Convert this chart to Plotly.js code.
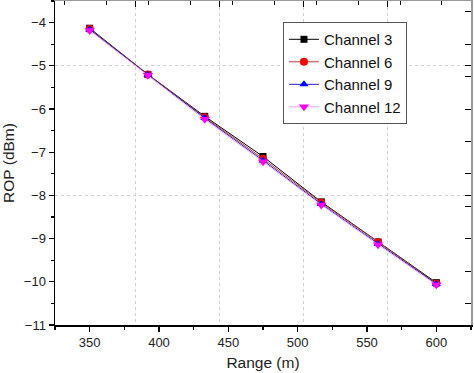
<!DOCTYPE html>
<html>
<head>
<meta charset="utf-8">
<script src="https://cdn.plot.ly/plotly-3.0.1.min.js"></script>
<style>html,body{margin:0;padding:0;background:#fff;}#chart{width:474px;height:373px;}</style>
</head>
<body>
<div id="chart"></div>
<script>
var rangeM = [350, 392, 433, 475, 517, 558, 600];
var channel3 = [-4.13, -5.20, -6.17, -7.10, -8.15, -9.08, -10.02];
var channel6 = [-4.15, -5.20, -6.19, -7.15, -8.17, -9.08, -10.04];
var channel9 = [-4.16, -5.21, -6.21, -7.19, -8.20, -9.12, -10.05];
var channel12 = [-4.18, -5.22, -6.24, -7.22, -8.22, -9.14, -10.07];
var seriesNames = ['Channel 3', 'Channel 6', 'Channel 9', 'Channel 12'];

var font = 'Liberation Sans, Arial, sans-serif';
function tr(y, name, lineColor, mColor, sym, size) {
  return {x: rangeM, y: y, name: name, type: 'scatter', mode: 'lines+markers',
    line: {color: lineColor, width: 1},
    marker: {color: mColor, symbol: sym, size: size}};
}
var data = [
  tr(channel3, seriesNames[0], '#000000', '#000000', 'square', 7),
  tr(channel6, seriesNames[1], '#c03a3a', '#ff0000', 'circle', 8),
  tr(channel9, seriesNames[2], '#2020c0', '#0000ff', 'triangle-up', 8),
  tr(channel12, seriesNames[3], '#f0a8f0', '#ff00ff', 'triangle-down', 9),
  {x: [], y: [], xaxis: 'x2', yaxis: 'y2', showlegend: false, hoverinfo: 'skip', type: 'scatter'}
];

var layout = {
  width: 474, height: 373,
  margin: {l: 55, r: 3, t: 1, b: 48},
  paper_bgcolor: '#ffffff', plot_bgcolor: '#ffffff',
  font: {family: font, color: '#222'},
  showlegend: true,
  legend: {x: 0.548, y: 0.935, xanchor: 'left', yanchor: 'top',
    bgcolor: '#ffffff', bordercolor: '#555', borderwidth: 1,
    font: {family: font, size: 15, color: '#111'}, tracegroupgap: 0,
    itemwidth: 30},
  xaxis: {range: [325, 625], tick0: 350, dtick: 50, ticks: 'outside', ticklen: 5,
    tickcolor: '#000', tickwidth: 1.2, showline: true, linecolor: '#000', linewidth: 1.5,
    showgrid: false, zeroline: false,
    minor: {dtick: 25, ticks: 'outside', ticklen: 3, tickcolor: '#000', showgrid: false},
    tickfont: {family: font, size: 13, color: '#222'},
    title: {text: 'Range (m)', font: {family: font, size: 15.5, color: '#222'}, standoff: 8}},
  yaxis: {range: [-11, -3.5], tick0: -11, dtick: 1, ticks: 'outside', ticklen: 5,
    tickcolor: '#000', tickwidth: 1.2, showline: true, linecolor: '#000', linewidth: 1.5,
    showgrid: false, zeroline: false,
    minor: {dtick: 0.5, ticks: 'outside', ticklen: 3, tickcolor: '#000', showgrid: false},
    tickfont: {family: font, size: 13, color: '#222'},
    title: {text: 'ROP (dBm)', font: {family: font, size: 15.5, color: '#222'}, standoff: 8}},
  xaxis2: {overlaying: 'x', side: 'top', range: [325, 625], tick0: 383.4, dtick: 60.4,
    ticks: 'inside', ticklen: 6, tickcolor: '#000', showticklabels: false,
    showline: true, linecolor: '#999', linewidth: 2,
    showgrid: true, gridcolor: '#cfcfcf', griddash: '3px,3px', gridwidth: 1, zeroline: false,
    minor: {dtick: 30.2, ticks: 'inside', ticklen: 4, tickcolor: '#000', showgrid: false}},
  yaxis2: {overlaying: 'y', side: 'right', range: [-11, -3.5], tick0: -5, dtick: 3,
    ticks: 'inside', ticklen: 6, tickcolor: '#000', showticklabels: false,
    showline: true, linecolor: '#999', linewidth: 2,
    showgrid: true, gridcolor: '#cfcfcf', griddash: '3px,3px', gridwidth: 1, zeroline: false,
    minor: {dtick: 0.75, ticks: 'inside', ticklen: 6, tickcolor: '#000', showgrid: false}}
};
Plotly.newPlot('chart', data, layout, {displayModeBar: false, staticPlot: true});
</script>
</body>
</html>
